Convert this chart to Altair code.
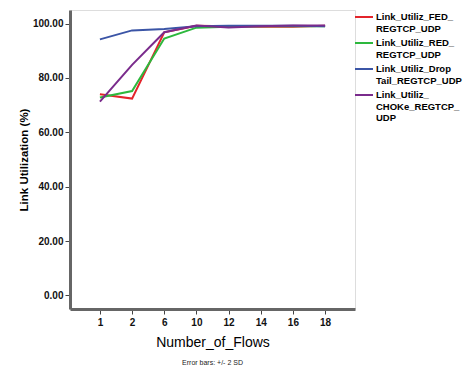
import altair as alt
import pandas as pd

flows = ["1", "2", "6", "10", "12", "14", "16", "18"]
series_names = [
    "Link_Utiliz_FED_\nREGTCP_UDP",
    "Link_Utiliz_RED_\nREGTCP_UDP",
    "Link_Utiliz_Drop\nTail_REGTCP_UDP",
    "Link_Utiliz_\nCHOKe_REGTCP_\nUDP",
]
fed = [74.0, 72.4, 96.8, 99.2, 99.0, 98.8, 98.8, 99.2]
red = [72.8, 75.2, 94.5, 98.5, 98.8, 99.0, 99.0, 99.0]
droptail = [94.2, 97.5, 98.0, 99.0, 99.2, 99.2, 99.2, 99.0]
choke = [71.3, 84.8, 96.8, 99.3, 98.6, 99.0, 99.3, 99.3]
colors = ["#e3242b", "#2db83d", "#3b55a6", "#7a2b8c"]

rows = []
for name, vals in zip(series_names, [fed, red, droptail, choke]):
    for f, v in zip(flows, vals):
        rows.append({"flows": f, "value": v, "series": name})
df = pd.DataFrame(rows)

font = "Liberation Sans"

chart = alt.Chart(df).mark_line(strokeWidth=2).encode(
    x=alt.X("flows:O", sort=flows, scale=alt.Scale(type="point", padding=0.93),
            axis=alt.Axis(title="Number_of_Flows", labelAngle=0, titleFontSize=14,
                          titleFontWeight="normal", titleFont=font, labelFont=font,
                          labelFontWeight="bold", labelFontSize=10, labelColor="#111",
                          domainWidth=3, domainColor="#666", tickColor="#444", tickSize=5,
                          labelPadding=3, titlePadding=8, titleColor="#000")),
    y=alt.Y("value:Q", scale=alt.Scale(domain=[-5, 105], nice=False, zero=False),
            axis=alt.Axis(title="Link Utilization (%)", values=[0, 20, 40, 60, 80, 100],
                          format=".2f", grid=False, titleFont=font, labelFont=font,
                          labelFontWeight="bold", labelFontSize=10, labelColor="#111",
                          titleFontSize=11.5, titleFontWeight="bold", titleColor="#000",
                          domainWidth=3, domainColor="#666", tickColor="#444", tickSize=5,
                          labelPadding=2, titlePadding=3)),
    color=alt.Color("series:N", sort=series_names,
                    scale=alt.Scale(domain=series_names, range=colors),
                    legend=alt.Legend(title=None, orient="none", legendX=284, legendY=-3,
                                      labelExpr="split(datum.label, '\\n')",
                                      labelFont=font, labelFontWeight="bold", labelFontSize=9.5,
                                      labelColor="#000", symbolType="stroke", symbolSize=324,
                                      symbolStrokeWidth=2, labelLimit=200, rowPadding=0,
                                      labelBaseline="middle", labelOffset=2)),
).properties(
    width=285, height=299,
    padding={"left": 62, "top": 2, "right": 111, "bottom": 62},
    autosize=alt.AutoSizeParams(type="none"),
    title=alt.TitleParams("Error bars: +/- 2 SD", orient="bottom", anchor="middle",
                          fontSize=7, fontWeight="normal", font=font, color="#222", offset=10),
).configure_view(stroke=None).configure(background="white")

chart.save("out.html", embed_options={"renderer": "svg", "actions": False})
